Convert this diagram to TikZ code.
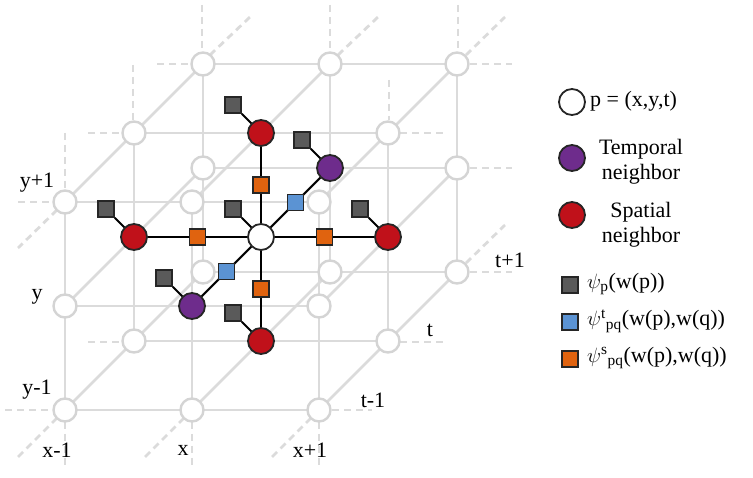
\documentclass[tikz,border=0pt]{standalone}
\usepackage{fontspec}
\setmainfont{Liberation Serif}
\usetikzlibrary{calc}
\begin{document}
\begin{tikzpicture}[x=1pt,y=-1pt,
  gl/.style={draw=black!14,line width=2.8pt},
  gd/.style={draw=black!14,line width=2.8pt,dash pattern=on 7pt off 5pt},
  gn/.style={circle,draw=black!17,line width=2.4pt,fill=white,minimum size=23pt,inner sep=0pt},
  bl/.style={draw=black,line width=1.8pt},
  cn/.style={circle,draw=black!85,line width=1.8pt,minimum size=26pt,inner sep=0pt},
  sq/.style={rectangle,draw=black!85,line width=1.6pt,minimum size=16pt,inner sep=0pt},
  lab/.style={font=\fontsize{22}{25}\selectfont,inner sep=1pt}]
\useasboundingbox (0,0) rectangle (753,478);
\definecolor{cred}{HTML}{C0111A}
\definecolor{cpur}{HTML}{6E2C8C}
\definecolor{corg}{HTML}{E0630F}
\definecolor{cblu}{HTML}{5B93D3}
\definecolor{cgry}{HTML}{5A5A5A}
% grid coordinates
\foreach \i in {0,1,2}{\foreach \j in {0,1,2}{\foreach \k in {0,1,2}{
  \coordinate (c\i\j\k) at ({65+127*\i+69*\k},{410-104*\j-69*\k});}}}
% dashed extensions
\draw[gd] (202,5)--(202,50) (330,5)--(330,50) (458,5)--(458,50) (133,65)--(133,120) (389,80)--(389,120) (65,133)--(65,190);
\draw[gd] (65,422)--(65,468) (192,422)--(192,468) (319,422)--(319,468);
\draw[gd] (157,64)--(190,64) (88,133)--(120,133) (18,202)--(52,202) (88,342)--(120,342) (5,410)--(52,410);
\draw[gd] (470,64)--(512,64) (470,168)--(512,168) (470,272)--(512,272) (400,133)--(443,133) (400,342)--(443,342) (332,410)--(372,410);
\draw[gd] (210,55)--(250,17) (338,55)--(378,17) (466,55)--(505,17) (466,263)--(505,225);
\draw[gd] (57,418)--(18,457) (184,418)--(145,457) (311,418)--(272,457) (57,210)--(18,248);
% grid lines
\foreach \a in {0,1,2}{\foreach \b in {0,1,2}{
  \draw[gl] (c0\a\b)--(c2\a\b);
  \draw[gl] (c\a0\b)--(c\a2\b);
  \draw[gl] (c\a\b0)--(c\a\b2);}}
% grid nodes
\foreach \i in {0,1,2}{\foreach \j in {0,1,2}{\foreach \k in {0,1,2}{
  \node[gn] (g\i\j\k) at (c\i\j\k) {};}}}
% labels
\node[lab] (ly1) at (37,183) {y+1};
\node[lab] (ly) at (37,297) {y};
\node[lab] (ly0) at (37,390) {y-1};
\node[lab] (lx0) at (57,450) {x-1};
\node[lab] (lx) at (183,450) {x};
\node[lab] (lx1) at (310,450) {x+1};
\node[lab] (lt1) at (510,260) {t+1};
\node[lab] (lt) at (430,330) {t};
\node[lab] (lt0) at (373,400) {t-1};
% factor graph
\foreach \n/\c in {p/c111,nu/c121,nd/c101,nl/c011,nr/c211,nf/c112,nb/c110}{
  \node[sq,fill=cgry] (u\n) at ($(\c)+(-28,-28)$) {};
  \draw[bl] (u\n)--(\c);}
\draw[bl] (c111)--(c121) (c111)--(c101) (c111)--(c011) (c111)--(c211) (c111)--(c112) (c111)--(c110);
\node[cn,fill=white] (p) at (c111) {};
\node[cn,fill=cred] (nu) at (c121) {};
\node[cn,fill=cred] (nd) at (c101) {};
\node[cn,fill=cred] (nl) at (c011) {};
\node[cn,fill=cred] (nr) at (c211) {};
\node[cn,fill=cpur] (nf) at (c112) {};
\node[cn,fill=cpur] (nb) at (c110) {};
\node[sq,fill=corg] (su) at ($(p)!0.5!(nu)$) {};
\node[sq,fill=corg] (sd) at ($(p)!0.5!(nd)$) {};
\node[sq,fill=corg] (sl) at ($(p)!0.5!(nl)$) {};
\node[sq,fill=corg] (sr) at ($(p)!0.5!(nr)$) {};
\node[sq,fill=cblu] (tf) at ($(p)!0.5!(nf)$) {};
\node[sq,fill=cblu] (tb) at ($(p)!0.5!(nb)$) {};
% legend
\node[cn,fill=white] (l1) at (572,102) {};
\node[lab,anchor=west] (t1) at (589,101) {p = (x,y,t)};
\node[cn,fill=cpur] (l2) at (572,158) {};
\node[lab,align=center] (t2) at (641,162) {Temporal\\neighbor};
\node[cn,fill=cred] (l3) at (572,215) {};
\node[lab,align=center] (t3) at (641,225) {Spatial\\neighbor};
\node[sq,fill=cgry] (l4) at (570,285) {};
\node[lab,anchor=west] (t4) at (586,284) {$\psi_{\mathrm{p}}$(w(p))};
\node[sq,fill=cblu] (l5) at (570,322) {};
\node[lab,anchor=west] (t5) at (586,321) {$\psi^{\mathrm{t}}{}_{\mathrm{pq}}$(w(p),w(q))};
\node[sq,fill=corg] (l6) at (570,359) {};
\node[lab,anchor=west] (t6) at (586,358) {$\psi^{\mathrm{s}}{}_{\mathrm{pq}}$(w(p),w(q))};
\end{tikzpicture}
\end{document}
